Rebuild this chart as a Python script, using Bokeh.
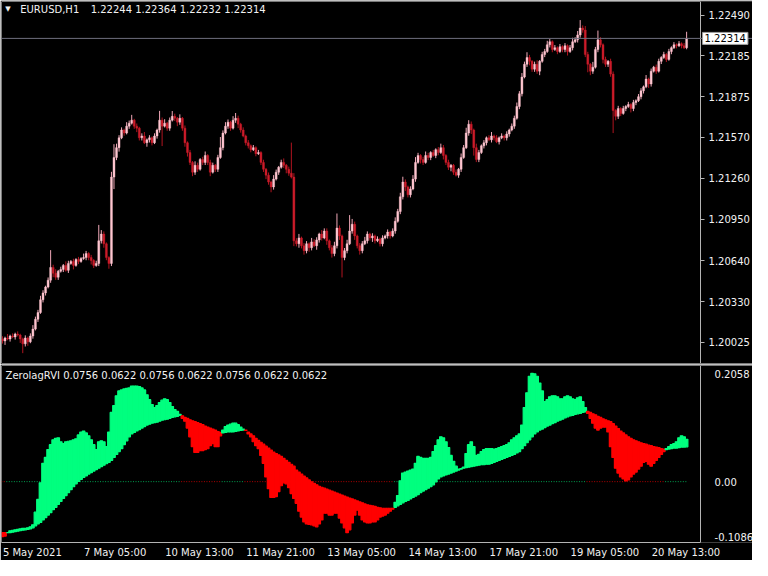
import numpy as np
from bokeh.plotting import figure
from bokeh.layouts import column
from bokeh.models import (Range1d, FixedTicker, PrintfTickFormatter, Label, Span, LinearAxis)
from bokeh.embed import file_html
from bokeh.resources import INLINE

# ---------------- data ----------------
closes = [
    1.20035, 1.20057, 1.20050, 1.20072, 1.20065, 1.20087, 1.20079, 1.20050, 1.20013, 1.20057,
    1.20028, 1.20072, 1.20124, 1.20198, 1.20249, 1.20345, 1.20397, 1.20441, 1.20493, 1.20589,
    1.20545, 1.20515, 1.20560, 1.20574, 1.20604, 1.20567, 1.20619, 1.20634, 1.20604, 1.20648,
    1.20634, 1.20656, 1.20663, 1.20693, 1.20663, 1.20641, 1.20604, 1.20619, 1.20789, 1.20840,
    1.20767, 1.20663, 1.20619, 1.21269, 1.21417, 1.21491, 1.21565, 1.21624, 1.21601, 1.21653,
    1.21675, 1.21698, 1.21653, 1.21638, 1.21565, 1.21579, 1.21528, 1.21550, 1.21565, 1.21528,
    1.21579, 1.21624, 1.21698, 1.21653, 1.21675, 1.21638, 1.21698, 1.21727, 1.21712, 1.21683,
    1.21712, 1.21638, 1.21528, 1.21454, 1.21380, 1.21306, 1.21358, 1.21328, 1.21402, 1.21380,
    1.21432, 1.21380, 1.21306, 1.21358, 1.21328, 1.21417, 1.21491, 1.21601, 1.21653, 1.21683,
    1.21638, 1.21698, 1.21712, 1.21668, 1.21624, 1.21579, 1.21528, 1.21505, 1.21476, 1.21491,
    1.21446, 1.21454, 1.21380, 1.21328, 1.21284, 1.21232, 1.21195, 1.21254, 1.21306, 1.21343,
    1.21380, 1.21358, 1.21328, 1.21299, 1.21269, 1.20789, 1.20767, 1.20811, 1.20752, 1.20715,
    1.20767, 1.20737, 1.20781, 1.20752, 1.20796, 1.20840, 1.20811, 1.20863, 1.20789, 1.20737,
    1.20693, 1.20752, 1.20885, 1.20826, 1.20663, 1.20715, 1.20767, 1.20863, 1.20914, 1.20826,
    1.20752, 1.20715, 1.20767, 1.20789, 1.20840, 1.20811, 1.20826, 1.20789, 1.20803, 1.20767,
    1.20811, 1.20826, 1.20855, 1.20826, 1.20863, 1.20936, 1.21010, 1.21121, 1.21232, 1.21195,
    1.21136, 1.21180, 1.21254, 1.21380, 1.21432, 1.21402, 1.21380, 1.21432, 1.21417, 1.21454,
    1.21432, 1.21476, 1.21454, 1.21491, 1.21432, 1.21380, 1.21343, 1.21358, 1.21306, 1.21284,
    1.21328, 1.21417, 1.21491, 1.21601, 1.21668, 1.21624, 1.21491, 1.21402, 1.21454, 1.21505,
    1.21528, 1.21565, 1.21550, 1.21579, 1.21565, 1.21535, 1.21565, 1.21579, 1.21565, 1.21594,
    1.21624, 1.21653, 1.21712, 1.21801, 1.21897, 1.22023, 1.22119, 1.22170, 1.22141, 1.22082,
    1.22119, 1.22067, 1.22141, 1.22193, 1.22215, 1.22266, 1.22289, 1.22230, 1.22244, 1.22215,
    1.22252, 1.22230, 1.22259, 1.22215, 1.22244, 1.22289, 1.22303, 1.22340, 1.22392, 1.22377,
    1.22193, 1.22119, 1.22067, 1.22097, 1.22230, 1.22303, 1.22266, 1.22156, 1.22119, 1.22141,
    1.22045, 1.21771, 1.21727, 1.21786, 1.21749, 1.21786, 1.21801, 1.21816, 1.21786, 1.21831,
    1.21845, 1.21875, 1.21919, 1.21949, 1.22008, 1.21971, 1.22067, 1.22097, 1.22067, 1.22141,
    1.22170, 1.22193, 1.22156, 1.22215, 1.22244, 1.22266, 1.22259, 1.22274, 1.22259, 1.22244,
    1.22314,
]
first_open = 1.20050

# wick lengths above / below the candle body, in pips
up_pips = [
    2, 1, 3, 1, 2, 1, 2, 1, 1, 2,   1, 2, 3, 2, 2, 3, 2, 1, 2, 13,
    2, 3, 1, 2, 1, 3, 2, 1, 2, 1,   2, 1, 3, 2, 1, 2, 1, 2, 12, 3,
    2, 1, 1, 4, 10, 3, 2, 2, 1, 3,  2, 4, 1, 2, 1, 2, 3, 1, 2, 1,
    2, 1, 7, 2, 3, 1, 2, 4, 2, 1,   3, 1, 2, 1, 2, 1, 3, 2, 1, 2,
    3, 1, 2, 2, 1, 2, 8, 2, 3, 2,   1, 3, 4, 2, 1, 2, 1, 2, 1, 2,
    1, 2, 1, 2, 1, 2, 1, 3, 2, 1,   2, 3, 1, 2, 23, 3, 2, 3, 1, 2,
    2, 1, 3, 2, 2, 1, 3, 2, 2, 1,   2, 3, 11, 2, 1, 2, 3, 12, 4, 2,
    1, 2, 2, 3, 2, 1, 2, 1, 2, 1,   2, 1, 2, 1, 2, 3, 2, 3, 4, 2,
    1, 2, 3, 4, 2, 1, 2, 3, 2, 1,   2, 1, 2, 3, 2, 1, 2, 1, 1, 2,
    1, 3, 2, 4, 3, 2, 1, 3, 2, 1,   2, 1, 2, 3, 1, 2, 1, 2, 1, 2,
    1, 2, 2, 3, 2, 3, 2, 4, 2, 1,   2, 3, 1, 2, 2, 3, 2, 1, 2, 1,
    2, 1, 2, 1, 2, 3, 2, 3, 6, 2,   3, 2, 1, 4, 2, 7, 2, 1, 2, 1,
    2, 2, 1, 2, 1, 2, 1, 2, 1, 2,   1, 2, 2, 1, 3, 1, 2, 1, 2, 2,
    1, 2, 1, 2, 1, 2, 1, 2, 1, 2,   5.0,
]
dn_pips = [
    2, 3, 1, 2, 1, 2, 1, 3, 7, 2,   3, 1, 2, 1, 2, 1, 2, 2, 1, 2,
    3, 2, 2, 1, 2, 1, 2, 1, 3, 1,   2, 1, 1, 2, 2, 3, 2, 1, 2, 2,
    3, 2, 4, 2, 9, 2, 3, 1, 2, 1,   2, 1, 2, 3, 2, 2, 1, 3, 2, 2,
    1, 2, 2, 15, 1, 2, 2, 1, 2, 3,  2, 2, 3, 3, 2, 3, 2, 2, 1, 2,
    2, 2, 3, 1, 2, 2, 1, 2, 1, 2,   2, 1, 2, 3, 2, 1, 2, 2, 2, 1,
    2, 1, 2, 2, 3, 2, 4, 2, 1, 2,   1, 2, 3, 2, 1, 4, 2, 3, 2, 3,
    2, 3, 2, 1, 3, 2, 2, 1, 3, 2,   3, 2, 2, 3, 15, 2, 2, 1, 2, 3,
    2, 3, 2, 1, 2, 2, 3, 2, 1, 2,   2, 1, 2, 2, 1, 2, 1, 2, 2, 3,
    2, 2, 1, 2, 1, 3, 2, 1, 2, 2,   1, 2, 2, 1, 3, 2, 2, 3, 2, 1,
    2, 2, 1, 1, 2, 3, 6, 2, 2, 1,   2, 2, 1, 2, 2, 1, 2, 1, 2, 2,
    2, 1, 2, 1, 2, 2, 1, 2, 3, 2,   2, 2, 3, 1, 2, 1, 2, 2, 1, 2,
    1, 2, 2, 3, 1, 2, 1, 2, 2, 2,   2, 6, 3, 2, 1, 2, 2, 3, 2, 2,
    2, 17, 3, 2, 2, 1, 2, 1, 3, 2,  2, 1, 2, 2, 1, 3, 2, 1, 2, 1,
    2, 1, 2, 1, 2, 1, 2, 1, 2, 1,   1.2,
]

rvi = [
    -0.0982, -0.0973, -0.0912, -0.0877, -0.0868, -0.0860, -0.0851, -0.0842, -0.0834, -0.0834,
    -0.0825, -0.0807, -0.0772, -0.0545, -0.0318, -0.0021, 0.0328, 0.0433, 0.0573, 0.0660,
    0.0748, 0.0774, 0.0783, 0.0713, 0.0678, 0.0713, 0.0722, 0.0730, 0.0748, 0.0765,
    0.0835, 0.0887, 0.0905, 0.0870, 0.0818, 0.0748, 0.0660, 0.0573, 0.0713, 0.0730,
    0.0713, 0.0625, 0.0887, 0.1237, 0.1359, 0.1534, 0.1621, 0.1639, 0.1656, 0.1665,
    0.1674, 0.1709, 0.1709, 0.1709, 0.1700, 0.1674, 0.1639, 0.1551, 0.1464, 0.1377,
    0.1324, 0.1359, 0.1412, 0.1455, 0.1481, 0.1464, 0.1412, 0.1342, 0.1289, 0.1254,
    0.1202, 0.1132, 0.1080, 0.0957, 0.0800, 0.0625, 0.0521, 0.0521, 0.0556, 0.0556,
    0.0573, 0.0590, 0.0643, 0.0678, 0.0625, 0.0625, 0.0818, 0.0922, 0.0984, 0.1010,
    0.1027, 0.1045, 0.1045, 0.1018, 0.0975, 0.0940, 0.0914, 0.0853, 0.0800, 0.0713,
    0.0643, 0.0590, 0.0468, 0.0328, 0.0084, -0.0126, -0.0283, -0.0283, -0.0266, -0.0178,
    -0.0073, -0.0021, -0.0038, -0.0108, -0.0213, -0.0300, -0.0388, -0.0528, -0.0632, -0.0720,
    -0.0755, -0.0763, -0.0772, -0.0790, -0.0807, -0.0755, -0.0685, -0.0563, -0.0563, -0.0597,
    -0.0597, -0.0563, -0.0563, -0.0650, -0.0737, -0.0825, -0.0912, -0.0860, -0.0737, -0.0597,
    -0.0510, -0.0597, -0.0685, -0.0720, -0.0737, -0.0737, -0.0720, -0.0720, -0.0685, -0.0632,
    -0.0615, -0.0597, -0.0563, -0.0528, -0.0493, -0.0370, -0.0248, 0.0014, 0.0154, 0.0171,
    0.0189, 0.0206, 0.0224, 0.0328, 0.0451, 0.0433, 0.0416, 0.0416, 0.0416, 0.0433,
    0.0538, 0.0643, 0.0748, 0.0800, 0.0783, 0.0713, 0.0608, 0.0468, 0.0363, 0.0276,
    0.0224, 0.0232, 0.0259, 0.0503, 0.0660, 0.0713, 0.0625, 0.0468, 0.0486, 0.0538,
    0.0573, 0.0590, 0.0590, 0.0590, 0.0582, 0.0590, 0.0608, 0.0625, 0.0643, 0.0660,
    0.0695, 0.0748, 0.0783, 0.0818, 0.0853, 0.1010, 0.1324, 0.1586, 0.1883, 0.1936,
    0.1927, 0.1883, 0.1761, 0.1621, 0.1429, 0.1464, 0.1516, 0.1534, 0.1534, 0.1516,
    0.1481, 0.1481, 0.1516, 0.1534, 0.1516, 0.1481, 0.1464, 0.1499, 0.1516, 0.1429,
    0.1324, 0.1219, 0.1132, 0.1045, 0.0957, 0.0922, 0.0957, 0.0975, 0.0975, 0.0887,
    0.0625, 0.0433, 0.0241, 0.0154, 0.0084, 0.0049, 0.0014, 0.0031, 0.0084, 0.0136,
    0.0171, 0.0224, 0.0276, 0.0346, 0.0363, 0.0311, 0.0276, 0.0328, 0.0381, 0.0433,
    0.0486, 0.0538, 0.0590, 0.0625, 0.0660, 0.0678, 0.0713, 0.0783, 0.0818, 0.0800,
    0.0756,
]
signal = [
    -0.0912, -0.0912, -0.0912, -0.0912, -0.0903, -0.0894, -0.0886, -0.0877, -0.0868, -0.0860,
    -0.0851, -0.0842, -0.0824, -0.0790, -0.0755, -0.0728, -0.0685, -0.0641, -0.0597, -0.0554,
    -0.0501, -0.0458, -0.0405, -0.0353, -0.0300, -0.0248, -0.0196, -0.0143, -0.0091, -0.0038,
    0.0005, 0.0040, 0.0075, 0.0101, 0.0136, 0.0162, 0.0189, 0.0215, 0.0241, 0.0267,
    0.0293, 0.0320, 0.0346, 0.0381, 0.0433, 0.0486, 0.0538, 0.0590, 0.0660, 0.0730,
    0.0800, 0.0853, 0.0879, 0.0905, 0.0931, 0.0957, 0.0984, 0.1010, 0.1027, 0.1045,
    0.1053, 0.1062, 0.1080, 0.1097, 0.1106, 0.1115, 0.1132, 0.1150, 0.1158, 0.1167,
    0.1184, 0.1176, 0.1150, 0.1132, 0.1106, 0.1088, 0.1071, 0.1053, 0.1036, 0.1019,
    0.0992, 0.0975, 0.0957, 0.0940, 0.0922, 0.0896, 0.0879, 0.0870, 0.0879, 0.0887,
    0.0887, 0.0887, 0.0896, 0.0905, 0.0914, 0.0922, 0.0922, 0.0887, 0.0853, 0.0818,
    0.0774, 0.0739, 0.0704, 0.0669, 0.0634, 0.0599, 0.0564, 0.0529, 0.0503, 0.0477,
    0.0451, 0.0416, 0.0381, 0.0346, 0.0311, 0.0276, 0.0206, 0.0171, 0.0136, 0.0101,
    0.0066, 0.0031, -0.0003, -0.0030, -0.0056, -0.0082, -0.0100, -0.0117, -0.0135, -0.0152,
    -0.0169, -0.0187, -0.0204, -0.0222, -0.0239, -0.0257, -0.0274, -0.0292, -0.0309, -0.0327,
    -0.0344, -0.0362, -0.0379, -0.0397, -0.0414, -0.0423, -0.0432, -0.0440, -0.0458, -0.0466,
    -0.0475, -0.0475, -0.0475, -0.0475, -0.0475, -0.0458, -0.0432, -0.0405, -0.0379, -0.0353,
    -0.0335, -0.0309, -0.0283, -0.0257, -0.0231, -0.0196, -0.0169, -0.0143, -0.0117, -0.0091,
    -0.0056, -0.0003, 0.0049, 0.0084, 0.0101, 0.0119, 0.0136, 0.0154, 0.0171, 0.0189,
    0.0206, 0.0224, 0.0241, 0.0250, 0.0259, 0.0267, 0.0276, 0.0285, 0.0293, 0.0302,
    0.0302, 0.0311, 0.0311, 0.0328, 0.0346, 0.0363, 0.0381, 0.0398, 0.0416, 0.0433,
    0.0451, 0.0468, 0.0486, 0.0512, 0.0538, 0.0590, 0.0643, 0.0695, 0.0748, 0.0800,
    0.0853, 0.0887, 0.0922, 0.0940, 0.0966, 0.0992, 0.1010, 0.1036, 0.1053, 0.1080,
    0.1097, 0.1115, 0.1141, 0.1158, 0.1176, 0.1184, 0.1202, 0.1211, 0.1219, 0.1237,
    0.1246, 0.1254, 0.1237, 0.1211, 0.1193, 0.1167, 0.1150, 0.1123, 0.1106, 0.1088,
    0.1071, 0.1036, 0.0992, 0.0949, 0.0905, 0.0870, 0.0835, 0.0800, 0.0774, 0.0748,
    0.0730, 0.0713, 0.0695, 0.0678, 0.0669, 0.0652, 0.0643, 0.0625, 0.0617, 0.0608,
    0.0590, 0.0582, 0.0573, 0.0582, 0.0590, 0.0599, 0.0599, 0.0608, 0.0617, 0.0617,
    0.0622,
]

price_ticks = [1.20025, 1.20330, 1.20640, 1.20950, 1.21260, 1.21570, 1.21875, 1.22185, 1.22490]
time_tick_bars = [0, 32, 64, 96, 128, 160, 192, 224, 256]
time_tick_labels = ["5 May 2021", "7 May 05:00", "10 May 13:00", "11 May 21:00", "13 May 05:00",
                    "14 May 13:00", "17 May 21:00", "19 May 05:00", "20 May 13:00"]
ind_ticks = [-0.0987, 0.0, 0.1923]
ind_tick_labels = ["-0.1086", "0.00", "0.2058"]
symbol = "EURUSD,H1"
ohlc_text = "1.22244 1.22364 1.22232 1.22314"
ind_text = "ZerolagRVI 0.0756 0.0622 0.0756 0.0622 0.0756 0.0622 0.0622"
last_price = 1.22314

# ---------------- layout constants ----------------
FONT = "DejaVu Sans"
GRAY = "#B4B4B4"
TXT = "#F2F2F2"
BULL_BODY, BULL_WICK = "#FFC6D0", "#F0A8B8"
BEAR_BODY, BEAR_WICK = "#CC1C2A", "#B0141F"

X0, XAX, XEND = -0.39, 275.5, 296.0        # left edge, price-scale line, right edge (bar units)
Y1_LO, Y1_HI = 1.19865, 1.22592
Y2_LO, Y2_HI = -0.1087, 0.2075
PX_PER_BAR = 751.0 / (XEND - X0)

# ---------------- derived ----------------
c = np.array(closes)
n = len(c)
idx = np.arange(n)
o = np.concatenate([[first_open], c[:-1]])
hi = np.maximum(o, c) + np.array(up_pips) * 0.0001
lo = np.minimum(o, c) - np.array(dn_pips) * 0.0001
bull = c >= o
btop = np.maximum(o, c)
bbot = np.minimum(o, c)
bbot = np.where(btop - bbot < 0.00004, btop - 0.00004, bbot)

xr = Range1d(X0, XEND)


def line_axis(fig, side, loc, bounds="auto"):
    ax = LinearAxis(fixed_location=loc, bounds=bounds, ticker=FixedTicker(ticks=[]),
                    axis_line_color=GRAY, major_tick_line_color=None,
                    minor_tick_line_color=None, major_label_text_color=None)
    fig.add_layout(ax, side)
    return ax


def style_labels(ax):
    ax.major_label_text_color = TXT
    ax.major_label_text_font = FONT
    ax.major_label_text_font_size = "10px"


# ---------------- main price pane ----------------
p1 = figure(width=752, height=364, x_range=xr, y_range=Range1d(Y1_LO, Y1_HI),
            output_backend="svg", toolbar_location=None,
            x_axis_location=None, y_axis_location=None,
            background_fill_color="black", border_fill_color="black",
            min_border_left=1, min_border_right=0, min_border_top=1, min_border_bottom=1)
p1.grid.visible = False
p1.outline_line_color = None

pa = LinearAxis(fixed_location=XAX, ticker=FixedTicker(ticks=price_ticks),
                formatter=PrintfTickFormatter(format="%.5f"),
                axis_line_color=GRAY, major_tick_line_color=GRAY, major_tick_out=4,
                major_tick_in=0, minor_tick_line_color=None, major_label_standoff=4)
style_labels(pa)
p1.add_layout(pa, "right")
line_axis(p1, "above", Y1_HI, (X0, XAX))
line_axis(p1, "below", Y1_LO)
line_axis(p1, "left", X0)

wick_col = np.where(bull, BULL_WICK, BEAR_WICK)
body_col = np.where(bull, BULL_BODY, BEAR_BODY)
p1.segment(x0=idx, y0=lo, x1=idx, y1=hi, line_color=list(wick_col), line_width=1)
p1.vbar(x=idx, width=0.78, top=btop, bottom=bbot, fill_color=list(body_col),
        line_color=list(body_col), line_width=0.4)

p1.add_layout(Span(location=last_price, dimension="width", line_color="#6E6E7E", line_width=1))

p1.add_layout(Label(x=2.15, y=1.22534, text="\u25BC", text_font=FONT, text_font_size="7px",
                    text_color=TXT, text_align="center", text_baseline="middle"))
p1.add_layout(Label(x=7.0, y=1.22532, text=symbol, text_font=FONT, text_font_size="10px",
                    text_color=TXT, text_align="left", text_baseline="middle"))
p1.add_layout(Label(x=34.8, y=1.22532, text=ohlc_text, text_font=FONT, text_font_size="10px",
                    text_color=TXT, text_align="left", text_baseline="middle"))
p1.add_layout(Label(x=XAX + 0.8, y=last_price, text=f"{last_price:.5f}", text_font=FONT,
                    text_font_size="10px", text_color="black", text_align="left",
                    text_baseline="middle", background_fill_color="white",
                    border_line_color="#A0A0A0", padding=2))

# ---------------- indicator pane ----------------
p2 = figure(width=752, height=196, x_range=xr, y_range=Range1d(Y2_LO, Y2_HI),
            output_backend="svg", toolbar_location=None,
            x_axis_location=None, y_axis_location=None,
            background_fill_color="black", border_fill_color="black",
            min_border_left=1, min_border_right=0, min_border_top=1, min_border_bottom=18)
p2.grid.visible = False
p2.outline_line_color = None

r = np.array(rvi)
s = np.array(signal)
up_state = r >= s
zcol = np.where(up_state, "#00A050", "#B00000")
p2.segment(x0=idx - 0.5, y0=np.zeros(n), x1=idx + 0.5, y1=np.zeros(n),
           line_color=list(zcol), line_width=1, line_dash="1 2")
fcol = np.where(up_state, "#00FF7F", "#FF0000")
p2.vbar(x=idx, width=1.0, top=np.maximum(r, s), bottom=np.minimum(r, s),
        fill_color=list(fcol), line_color=list(fcol), line_width=1.2)

ia = LinearAxis(fixed_location=XAX, ticker=FixedTicker(ticks=ind_ticks),
                axis_line_color=GRAY, major_tick_line_color=None, minor_tick_line_color=None,
                major_label_standoff=8)
ia.major_label_overrides = {t: l for t, l in zip(ind_ticks, ind_tick_labels)}
style_labels(ia)
p2.add_layout(ia, "right")
line_axis(p2, "above", Y2_HI)
line_axis(p2, "left", X0)

# time axis: labels start at each tick (label centres shifted by half the text width)
label_widths_px = [58.8 if l.startswith("5 ") else (62.2 if len(l.split()[0]) == 1 else 68.6)
                   for l in time_tick_labels]
label_pos = [round(b + (w / 2 + 0.5) / PX_PER_BAR, 2) for b, w in zip(time_tick_bars, label_widths_px)]
ta = LinearAxis(ticker=FixedTicker(ticks=label_pos), bounds=(X0, XAX),
                axis_line_color=GRAY, major_tick_line_color=None, major_tick_out=0,
                major_tick_in=0, minor_tick_line_color=None, major_label_standoff=4)
ta.major_label_overrides = {t: l for t, l in zip(label_pos, time_tick_labels)}
style_labels(ta)
p2.add_layout(ta, "below")

# tick marks at the labelled bars
tk = LinearAxis(fixed_location=Y2_LO, ticker=FixedTicker(ticks=time_tick_bars),
                axis_line_color=None, major_tick_line_color=GRAY, major_tick_out=4,
                major_tick_in=0, minor_tick_line_color=None, major_label_text_color=None)
p2.add_layout(tk, "below")

p2.add_layout(Label(x=1.2, y=0.1901, text=ind_text, text_font=FONT, text_font_size="10px",
                    text_color=TXT, text_align="left", text_baseline="middle"))

layout = column(p1, p2, spacing=0)
open("out.html", "w").write(file_html(layout, INLINE))
